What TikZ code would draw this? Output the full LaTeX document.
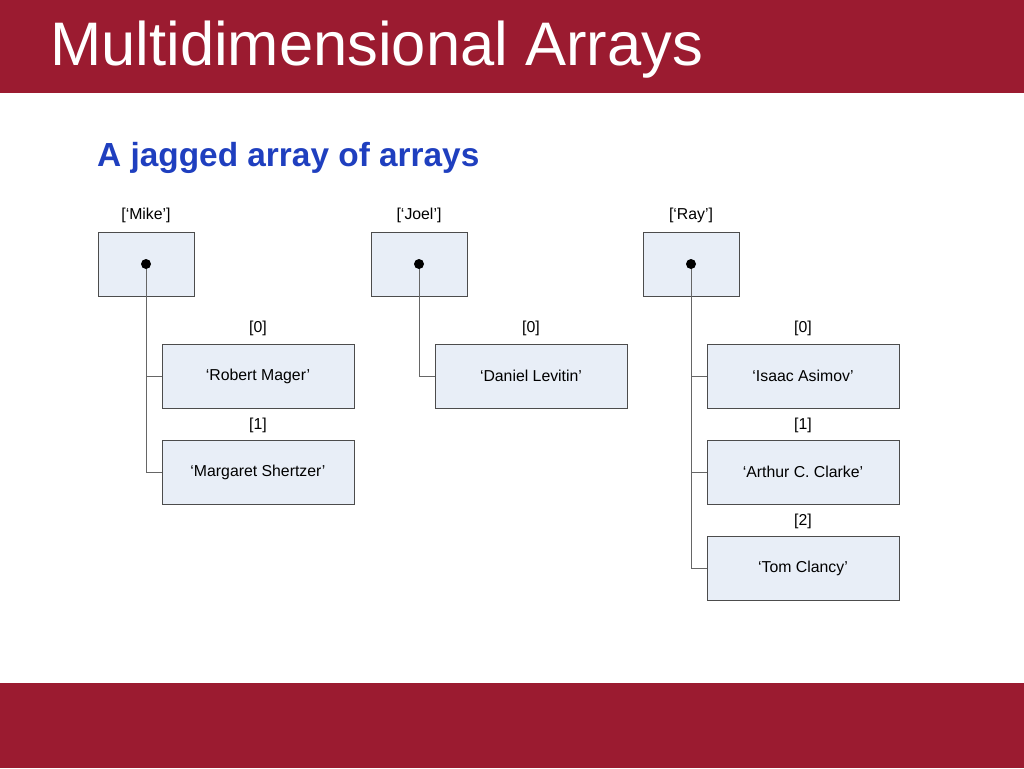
\documentclass[tikz,border=0pt]{standalone}
\usepackage{fontspec}
\setmainfont{Liberation Sans}
\definecolor{barred}{HTML}{9B1B30}
\definecolor{boxfill}{HTML}{E8EEF7}
\definecolor{subblue}{HTML}{1F3FBF}
\tikzset{
  refbox/.style={draw=black!70, fill=boxfill, minimum width=1.92cm, minimum height=1.28cm, inner sep=0pt},
  elembox/.style={draw=black!70, fill=boxfill, minimum width=3.84cm, minimum height=1.28cm, font=\fontsize{9}{11}\selectfont, inner sep=0pt},
  lbl/.style={font=\fontsize{9}{11}\selectfont},
  link/.style={draw=black!60, line width=0.5pt}
}
\begin{document}
\begin{tikzpicture}[x=0.02cm,y=-0.02cm]
  \useasboundingbox (0,0) rectangle (1024,768);
  \fill[barred] (0,0) rectangle (1024,93);
  \fill[barred] (0,683) rectangle (1024,768);
  \node[anchor=west, text=white, font=\fontsize{35}{40}\selectfont] (title) at (44,50) {Multidimensional Arrays};
  \node[anchor=west, text=subblue, font=\fontsize{19}{22}\selectfont\bfseries] (sub) at (91,158) {A jagged array of arrays};
  % outer references
  \node[refbox] (mike) at (146,264) {};
  \node[refbox] (joel) at (419,264) {};
  \node[refbox] (ray) at (691,264) {};
  \node[lbl] at (146,215) {[‘Mike’]};
  \node[lbl] at (419,215) {[‘Joel’]};
  \node[lbl] at (691,215) {[‘Ray’]};
  % inner arrays
  \node[elembox] (m0) at (258,376) {‘Robert Mager’};
  \node[elembox] (m1) at (258,472) {‘Margaret Shertzer’};
  \node[elembox] (j0) at (531,376) {‘Daniel Levitin’};
  \node[elembox] (r0) at (803,376) {‘Isaac Asimov’};
  \node[elembox] (r1) at (803,472) {‘Arthur C. Clarke’};
  \node[elembox] (r2) at (803,568) {‘Tom Clancy’};
  \node[lbl] at (258,328) {[0]};
  \node[lbl] at (258,425) {[1]};
  \node[lbl] at (531,328) {[0]};
  \node[lbl] at (803,328) {[0]};
  \node[lbl] at (803,425) {[1]};
  \node[lbl] at (803,521) {[2]};
  % links
  \draw[link] (mike.center) |- (m1.west);
  \draw[link] (mike.center |- m0.west) -- (m0.west);
  \draw[link] (joel.center) |- (j0.west);
  \draw[link] (ray.center) |- (r2.west);
  \draw[link] (ray.center |- r0.west) -- (r0.west);
  \draw[link] (ray.center |- r1.west) -- (r1.west);
  \foreach \n in {mike,joel,ray}
    \fill (\n.center) circle (5);
\end{tikzpicture}
\end{document}
